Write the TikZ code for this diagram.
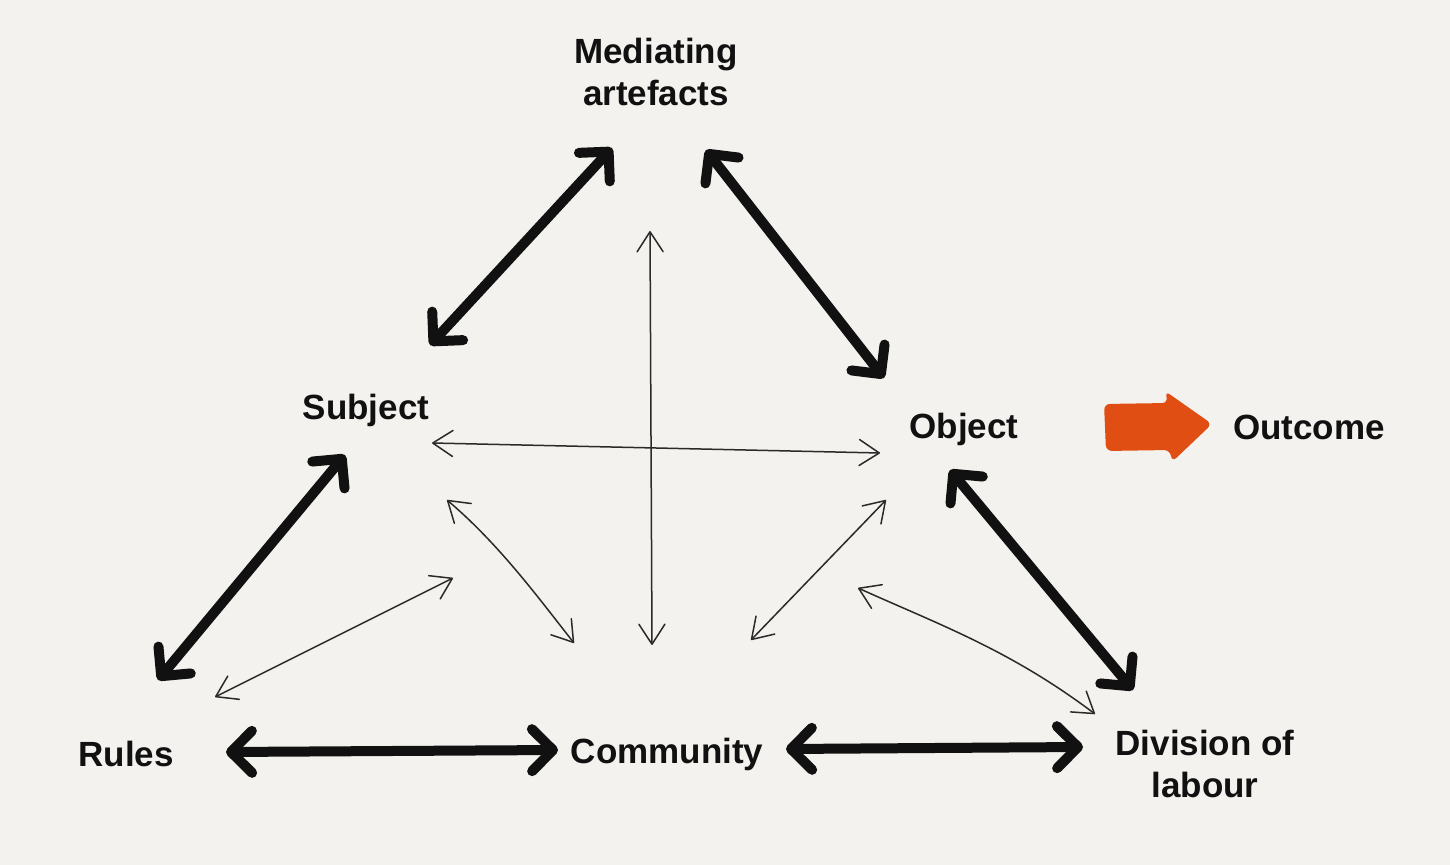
\documentclass[tikz,border=0pt]{standalone}
\usepackage{fontspec}
\setmainfont{Liberation Sans}
\usetikzlibrary{arrows.meta}
\definecolor{bg}{HTML}{F4F2EE}
\definecolor{orng}{HTML}{E04E14}
\definecolor{ink}{HTML}{111111}
\definecolor{thinink}{HTML}{2A2A2A}
\begin{document}
\begin{tikzpicture}[x=0.5pt,y=-0.5pt,
  lbl/.style={font=\fontsize{17.5}{21}\selectfont\bfseries, align=center, inner sep=0pt, text=ink},
  thickarr/.style={draw=ink, line width=5pt, line cap=round,
    {Straight Barb[length=10.5pt,width=21pt,line cap=round,line join=round]}-{Straight Barb[length=10.5pt,width=21pt,line cap=round,line join=round]}},
  thinarr/.style={draw=thinink, line width=0.75pt, line cap=round,
    {Straight Barb[length=10pt,width=13pt,line cap=round,line join=round]}-{Straight Barb[length=10pt,width=13pt,line cap=round,line join=round]}}]
\fill[bg] (0,0) rectangle (1450,865);
\useasboundingbox (0,0) rectangle (1450,865);

% labels
\node[lbl] (med) at (656,72) {Mediating\\artefacts};
\node[lbl] (subj) at (366,410) {Subject};
\node[lbl] (obj) at (964,429) {Object};
\node[lbl] (out) at (1309,427) {Outcome};
\node[lbl] (rules) at (126,754) {Rules};
\node[lbl] (comm) at (667,754) {Community};
\node[lbl] (div) at (1205,764) {Division of\\labour};

% endpoints of the thick arrows
\coordinate (t1a) at (430,345); \coordinate (t1b) at (612,148);
\coordinate (t2a) at (706,150); \coordinate (t2b) at (884,378);
\coordinate (t3a) at (345,455); \coordinate (t3b) at (158,680);
\coordinate (t4a) at (950,470); \coordinate (t4b) at (1133,690);
\coordinate (t5a) at (226,752); \coordinate (t5b) at (558,750);
\coordinate (t6a) at (786,749); \coordinate (t6b) at (1083,747);

\draw[thickarr] (t1a) -- (t1b);
\draw[thickarr] (t2a) -- (t2b);
\draw[thickarr] (t3a) -- (t3b);
\draw[thickarr] (t4a) -- (t4b);
\draw[thickarr] (t5a) -- (t5b);
\draw[thickarr] (t6a) -- (t6b);

% endpoints of the thin arrows
\coordinate (v1) at (650,231); \coordinate (v2) at (652,645);
\coordinate (h1) at (432,443); \coordinate (h2) at (880,453);
\coordinate (c1) at (447,500); \coordinate (c2) at (574,643);
\coordinate (d1) at (215,697); \coordinate (d2) at (453,578);
\coordinate (e1) at (886,500); \coordinate (e2) at (751,640);
\coordinate (f1) at (858,588); \coordinate (f2) at (1095,714);

\draw[thinarr] (v1) -- (v2);
\draw[thinarr] (h1) -- (h2);
\draw[thinarr] (c1) .. controls (500,545) and (540,600) .. (c2);
\draw[thinarr] (d1) -- (d2);
\draw[thinarr] (e1) -- (e2);
\draw[thinarr] (f1) .. controls (940,625) and (1010,650) .. (f2);

% orange arrow
\fill[orng, rounded corners=3pt] (1104,404) -- (1168,403) -- (1165,391) -- (1212,424)
  -- (1172,462) -- (1170,450) -- (1106,451) -- cycle;
\end{tikzpicture}
\end{document}
